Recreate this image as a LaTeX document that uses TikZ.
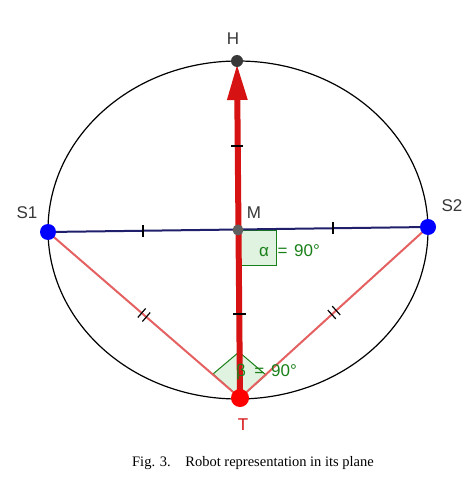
\documentclass[tikz,border=0pt]{standalone}
\usepackage{fontspec}
\setmainfont{Liberation Sans}
\newfontfamily\capfont{Liberation Serif}
\usetikzlibrary{arrows.meta}
\definecolor{navy}{rgb}{0.12,0.12,0.42}
\definecolor{rred}{rgb}{0.84,0.07,0.07}
\definecolor{pred}{rgb}{0.9,0.38,0.38}
\definecolor{ggreen}{rgb}{0.1,0.5,0.1}
\definecolor{lgreen}{rgb}{0.88,0.95,0.88}
\definecolor{lbl}{rgb}{0.22,0.22,0.22}
\tikzset{
  ptlabel/.style={text=lbl,font=\fontsize{17}{17}\selectfont,inner sep=0pt},
  anglabel/.style={text=ggreen,font=\fontsize{17}{17}\selectfont,inner sep=0pt},
  tickm/.style={black,line width=1.2pt},
  dot/.style={circle,inner sep=0pt,minimum size=#1},
}
\begin{document}
\begin{tikzpicture}[x=1pt,y=-1pt]
\useasboundingbox[fill=white] (0,0) rectangle (474,484);
% coordinates
\coordinate (Hc) at (237,61);
\coordinate (Mc) at (238,230);
\coordinate (S1c) at (48,232);
\coordinate (S2c) at (428,227);
\coordinate (Tc) at (240,398);
% ellipse
\draw[black,line width=1.2pt] (238,230) ellipse [x radius=190, y radius=169];
% right angle markers
\draw[ggreen,fill=lgreen,line width=1pt] (Mc) -- (276,230) -- (276,265) -- (238,265);
\draw[ggreen,fill=lgreen,line width=1pt] (Tc) -- (213,374) -- (239,352) -- (266,375) -- cycle;
% pink lines
\draw[pred,line width=2pt] (S1c) -- (Tc);
\draw[pred,line width=2pt] (S2c) -- (Tc);
% double ticks on pink lines
\draw[tickm] (145.6,308.5) -- (137.8,317.5);
\draw[tickm] (150.2,312.5) -- (142.4,321.5);
\draw[tickm] (327.8,310.1) -- (335.8,318.9);
\draw[tickm] (332.2,306.1) -- (340.2,314.9);
% blue line
\draw[navy,line width=2pt] (S1c) -- (S2c);
\draw[tickm] (143,225) -- (143,237);
\draw[tickm] (333,222) -- (333,234);
% red arrow
\draw[rred,line width=6pt,-{Triangle[length=36pt,width=19pt]}] (Tc) -- (237,64);
\draw[tickm] (231,146) -- (243,146);
\draw[tickm] (233,314) -- (246,314);
% angle labels
\node[anglabel,anchor=west] at (259,251) {α\hspace{0.5em}=\hspace{0.4em}90°};
\node[anglabel,anchor=west] at (236,372) {β\hspace{0.5em}=\hspace{0.4em}90°};
% points
\node[dot=12pt,fill=lbl] (H) at (Hc) {};
\node[dot=11pt,fill=lbl!80] (M) at (Mc) {};
\node[dot=16pt,fill=blue] (S1) at (S1c) {};
\node[dot=16pt,fill=blue] (S2) at (S2c) {};
\node[dot=18pt,fill=red] (T) at (Tc) {};
% labels
\node[ptlabel] (Hl) at (233,39) {H};
\node[ptlabel] (Ml) at (254,213) {M};
\node[ptlabel] (S1l) at (27,213) {S1};
\node[ptlabel] (S2l) at (452,206) {S2};
\node[ptlabel,text=rred] (Tl) at (243,425) {T};
\node[font=\capfont\fontsize{14.5}{15}\selectfont,inner sep=0pt] (cap) at (253,463) {Fig. 3.\hspace{1em}Robot representation in its plane};
\end{tikzpicture}
\end{document}
